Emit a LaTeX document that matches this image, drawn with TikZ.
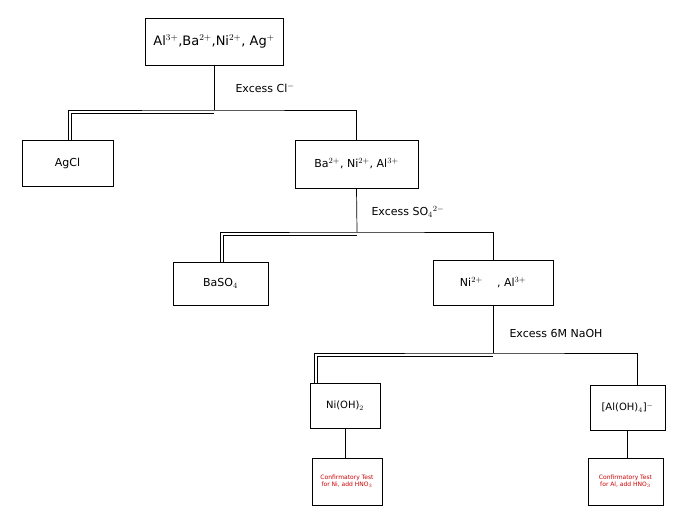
\documentclass[tikz,border=0pt]{standalone}
\usepackage{fontspec}
\setmainfont{DejaVu Sans}
\begin{document}
\begin{tikzpicture}[x=1pt,y=-1pt,
  bx/.style={draw,line width=0.8pt,inner sep=0pt},
  ln/.style={line width=0.7pt},
  lbl/.style={font=\fontsize{11}{13}\selectfont},
  red/.style={text=red!80!black,font=\fontsize{6}{7}\selectfont,align=center}]
\useasboundingbox (0,0) rectangle (700,525);
\node[bx,minimum width=138,minimum height=47] (top) at (214,41.5) {\fontsize{13}{15}\selectfont Al$^{3+}$,Ba$^{2+}$,Ni$^{2+}$, Ag$^{+}$};
\node[bx,minimum width=91,minimum height=46] (agcl) at (67.5,163) {\fontsize{11}{13}\selectfont AgCl};
\node[bx,minimum width=123,minimum height=48] (b1) at (356.5,164) {\fontsize{11}{13}\selectfont Ba$^{2+}$, Ni$^{2+}$, Al$^{3+}$};
\node[bx,minimum width=95,minimum height=43] (baso) at (220.5,283.5) {\fontsize{11}{13}\selectfont BaSO$_4$};
\node[bx,minimum width=120,minimum height=45] (b2) at (493,282.5) {\fontsize{11}{13}\selectfont Ni$^{2+}$ \quad, Al$^{3+}$};
\node[bx,minimum width=70,minimum height=45] (nioh) at (345,405.5) {\fontsize{10}{12}\selectfont Ni(OH)$_2$};
\node[bx,minimum width=75,minimum height=45] (aloh) at (627.5,407.5) {\fontsize{10}{12}\selectfont [Al(OH)$_4$]$^-$};
\node[bx,minimum width=70,minimum height=47,red] (c1) at (347,481.5) {Confirmatory Test\\for Ni, add HNO$_3$};
\node[bx,minimum width=75,minimum height=47,red] (c2) at (625.5,481.5) {Confirmatory Test\\for Al, add HNO$_3$};
\coordinate (j1) at (214,110);
\coordinate (j2) at (357,232);
\coordinate (j3) at (493,353);
\draw[ln] (top.south) -- (j1);
\draw[ln] (agcl.north -| 68,0) |- (j1) -| (b1.north);
\draw[ln] (agcl.north -| 71,0) -- (71,113) -- (214,113);
\draw[ln] (b1.south) -- (j2);
\draw[ln] (baso.north) |- (j2) -| (b2.north);
\draw[ln] (223,262) -- (223,235) -- (357,235);
\draw[ln] (b2.south) -- (j3);
\draw[ln] (nioh.north -| 314,0) |- (j3) -| (aloh.north -| 637,0);
\draw[ln] (317,383) -- (317,356) -- (493,356);
\draw[ln] (nioh.south) -- (c1.north -| nioh.south);
\draw[ln] (aloh.south) -- (c2.north -| aloh.south);
\node[lbl,anchor=west] (l1) at (232,88) {Excess Cl$^-$};
\node[lbl,anchor=west] (l2) at (368,212) {Excess SO$_4$$^{2-}$};
\node[lbl,anchor=west] (l3) at (506,333) {Excess 6M NaOH};
\end{tikzpicture}
\end{document}
